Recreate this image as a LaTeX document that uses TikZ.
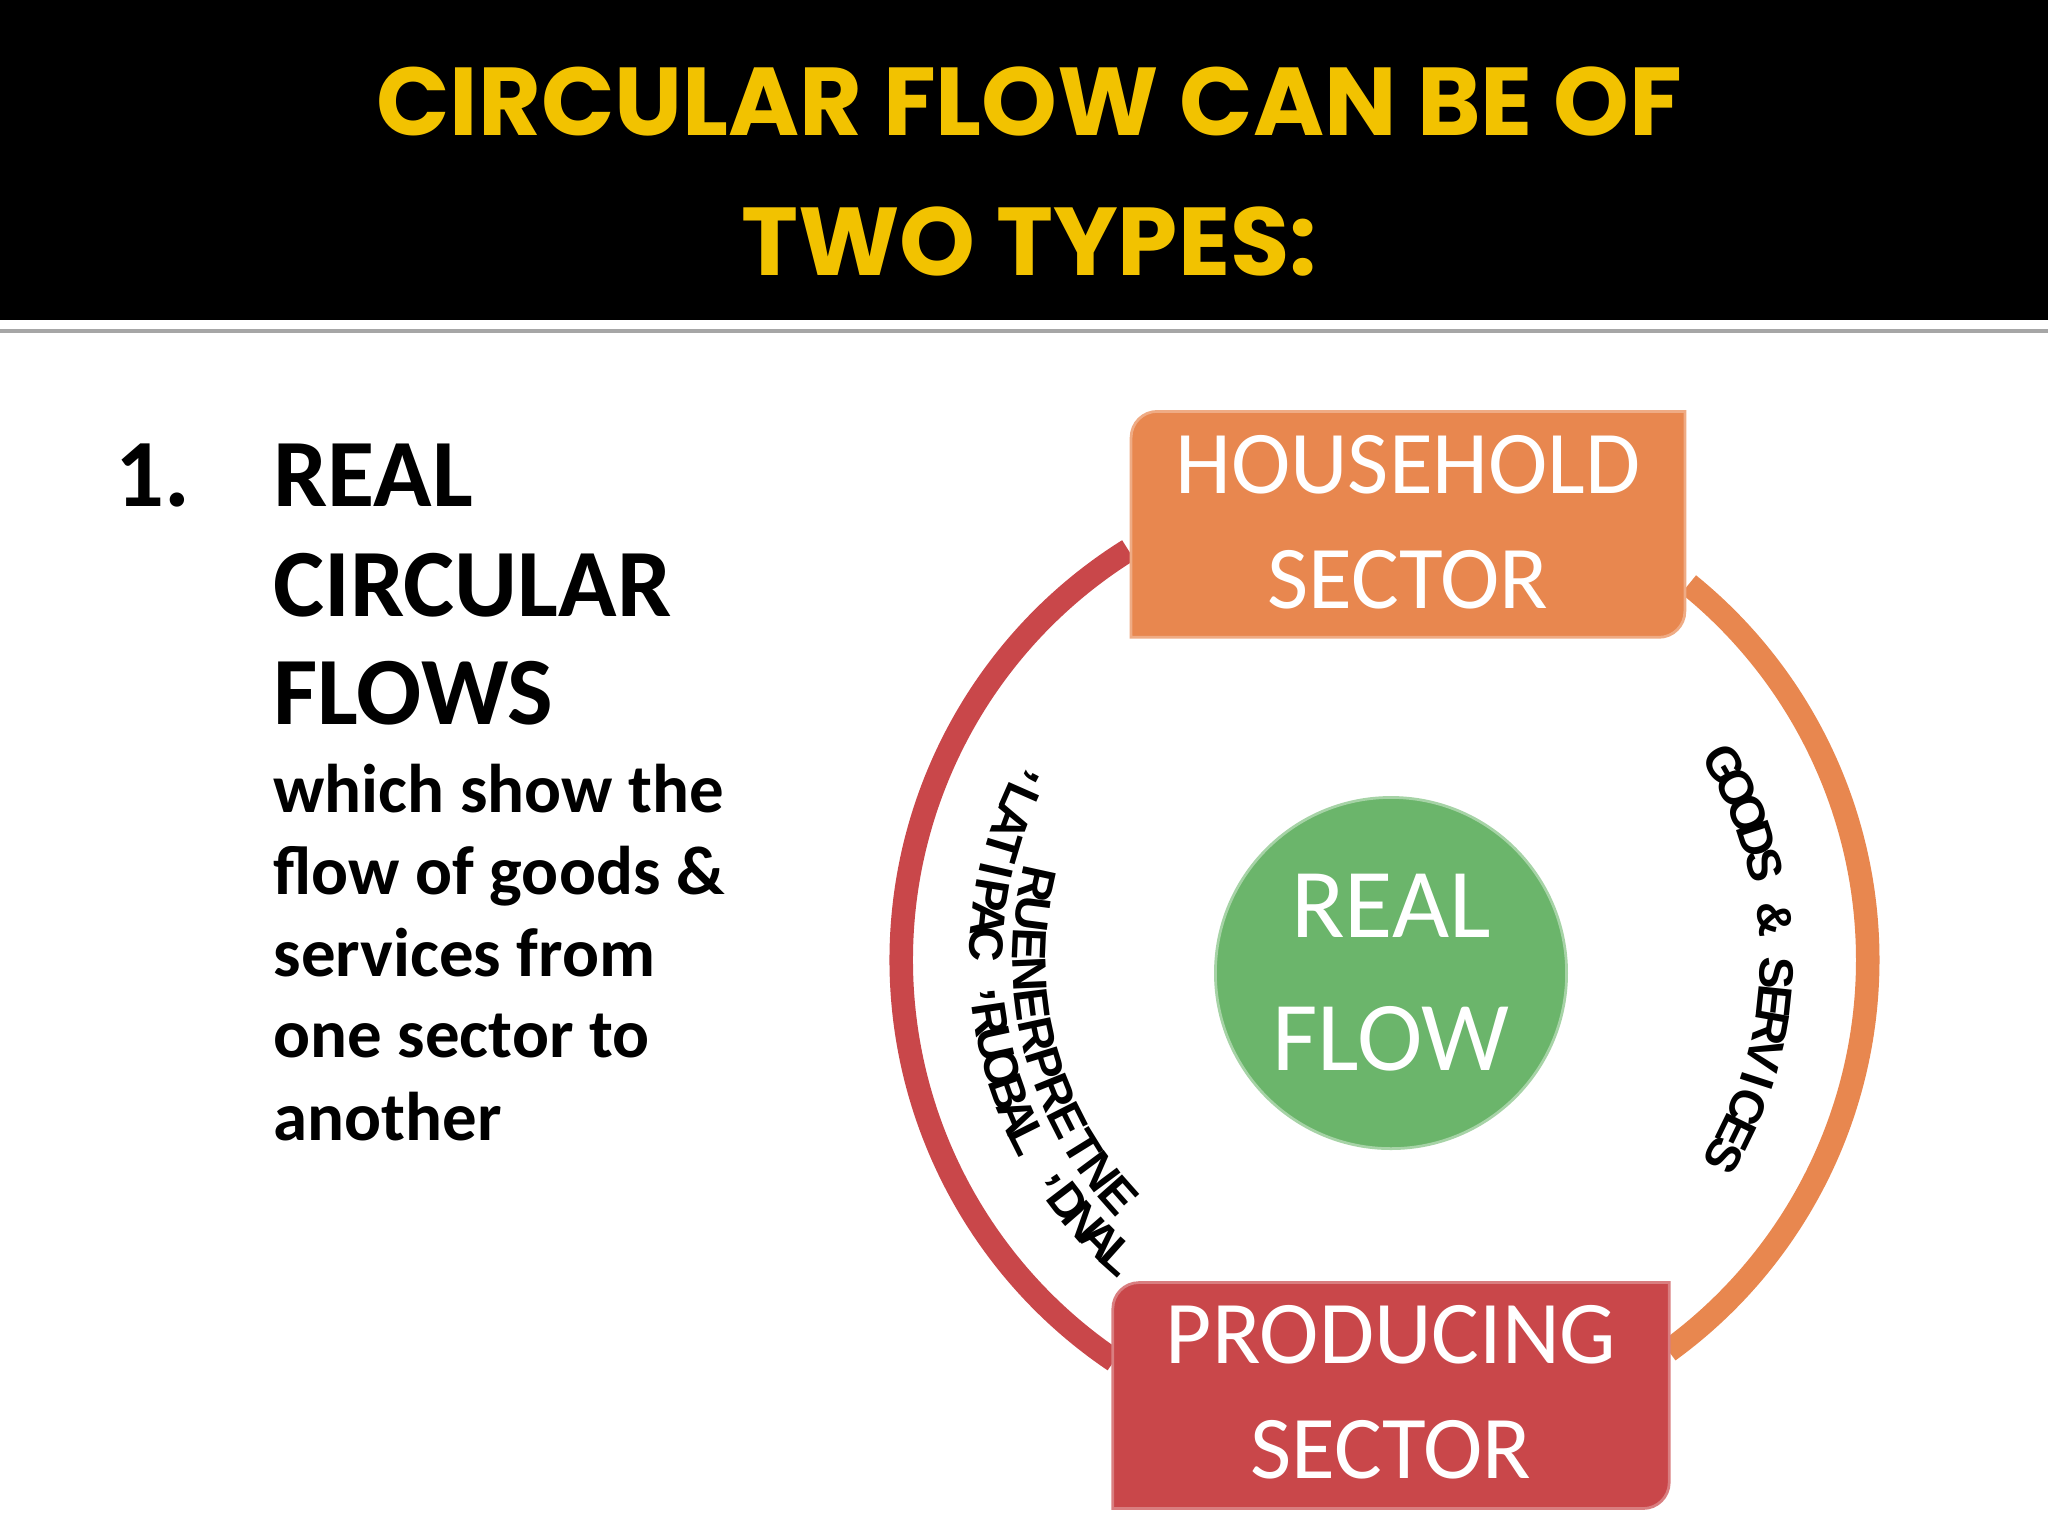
\documentclass[tikz,border=0pt]{standalone}
\usepackage{fontspec}
\setmainfont{Carlito}
\newfontfamily\titlefont{Poppins}
\newfontfamily\arialf{Liberation Sans}
\usetikzlibrary{calc}
\definecolor{hdrY}{HTML}{F2C200}
\definecolor{orng}{HTML}{E8874F}
\definecolor{rd}{HTML}{C9474A}
\definecolor{grn}{HTML}{6BB56B}
\tikzset{
  ttl/.style={text=hdrY,font=\titlefont\bfseries\fontsize{21}{24}\selectfont},
  boxtxt/.style={text=white,font=\fontsize{19.5}{22}\selectfont},
  head/.style={anchor=base west,font=\bfseries\fontsize{21}{24}\selectfont},
  body/.style={anchor=base west,font=\bfseries\fontsize{15}{18}\selectfont},
  ring/.style={line width=18*0.01cm},
  ltr/.style={inner sep=0pt,font=\arialf\bfseries\fontsize{10.5}{12}\selectfont}
}
\begin{document}
\begin{tikzpicture}[x=0.01cm,y=0.01cm]
\useasboundingbox (0,0) rectangle (1568,1176);
\fill[white] (0,0) rectangle (1568,1176);
% header
\fill[black] (0,931) rectangle (1568,1176);
\fill[gray!70] (0,921) rectangle (1568,924);
\node[ttl] (t1) at (788,1098) {CIRCULAR FLOW CAN BE OF};
\node[ttl] (t2) at (788,991) {TWO TYPES:};
% left text
\node[head,anchor=base east] (num) at (158,788) {1.};
\node[head] (h1) at (197,788) {REAL};
\node[head] (h2) at (197,704) {CIRCULAR};
\node[head] (h3) at (197,621) {FLOWS};
\node[body] (b1) at (197,554) {which show the};
\node[body] (b2) at (197,491) {flow of goods \&};
\node[body] (b3) at (197,428) {services from};
\node[body] (b4) at (197,366) {one sector to};
\node[body] (b5) at (197,303) {another};
% ring
\coordinate (c) at (1060,441);
\draw[ring,rd] (c) ++(122:370) arc[start angle=122,end angle=236,radius=370];
\draw[ring,orng] (c) ++(51:370) arc[start angle=51,end angle=-54,radius=370];
% arc texts (letter by letter)
\foreach \ch [count=\i] in {L,A,N,D,{,},{},L,A,B,O,U,R,{,},{},C,A,P,I,T,A,L,{,}}{
  \pgfmathsetmacro\ang{-130-(\i-0.5)*3.6}
  \node[ltr,rotate=\ang+90] at ($(c)+(\ang:305)$) {\ch};
}
\foreach \ch [count=\i] in {E,N,T,E,R,P,R,E,N,E,U,R}{
  \pgfmathsetmacro\ang{-136-(\i-0.5)*4.9}
  \node[ltr,rotate=\ang+90] at ($(c)+(\ang:272)$) {\ch};
}
\foreach \ch [count=\i] in {G,O,O,D,S,{},\&,{},S,E,R,V,I,C,E,S}{
  \pgfmathsetmacro\ang{32-(\i-0.5)*4.0}
  \node[ltr,rotate=\ang-90] at ($(c)+(\ang:300)$) {\ch};
}
% household box
\filldraw[fill=orng,draw=orng!70!white,line width=0.6pt]
  (866,688) -- (866,841) arc[start angle=180,end angle=90,radius=20] -- (1290,861)
  -- (1290,708) arc[start angle=0,end angle=-90,radius=20] -- cycle;
\node[boxtxt,align=center] (hh) at (1078,776) {HOUSEHOLD\\[3pt]SECTOR};
% producing box
\filldraw[fill=rd,draw=rd!70!white,line width=0.6pt]
  (852,21) -- (852,174) arc[start angle=180,end angle=90,radius=20] -- (1278,194)
  -- (1278,41) arc[start angle=0,end angle=-90,radius=20] -- cycle;
\node[boxtxt,align=center] (ps) at (1065,110) {PRODUCING\\[3pt]SECTOR};
% center circle
\node[circle,fill=grn,draw=grn!60!white,line width=0.6pt,minimum size=248*0.01cm,
  text=white,align=center,font=\fontsize{21.5}{25}\selectfont] (rf) at (1065,431) {REAL\\[4pt]FLOW};
\end{tikzpicture}
\end{document}
